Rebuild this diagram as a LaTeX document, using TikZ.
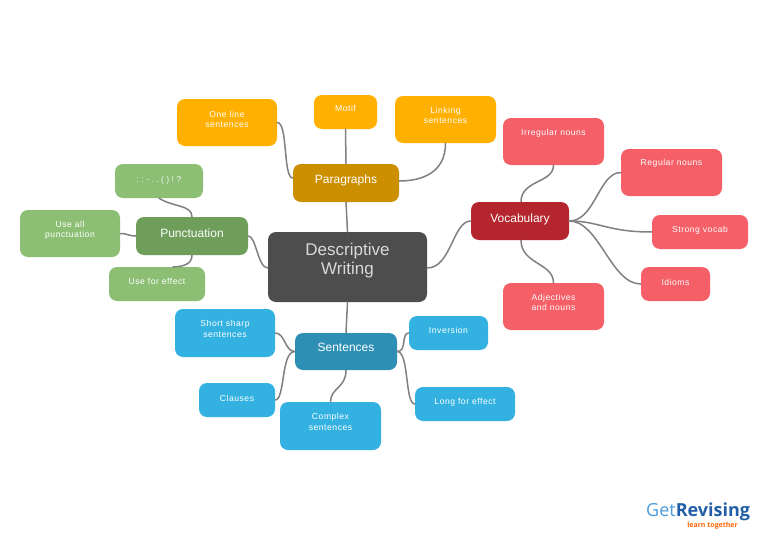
\documentclass[tikz,border=0pt]{standalone}
\usepackage{fontspec}
\setmainfont{Liberation Sans}
\newfontfamily\spaced[LetterSpace=6]{Liberation Sans}
\newfontfamily\wider[LetterSpace=28]{Liberation Sans}
\newfontfamily\logofont{Open Sans}
\definecolor{amberL}{HTML}{FFB000}
\definecolor{amberD}{HTML}{CC8F00}
\definecolor{greenL}{HTML}{8CBF74}
\definecolor{greenD}{HTML}{6F9E5B}
\definecolor{blueL}{HTML}{33B2E2}
\definecolor{blueD}{HTML}{2E8FB5}
\definecolor{redL}{HTML}{F45F68}
\definecolor{redD}{HTML}{B5252D}
\definecolor{coreC}{HTML}{4D4D4D}
\definecolor{linkC}{HTML}{808080}
\newcommand{\upt}[2]{\raisebox{#1pt}[0pt][0pt]{\begin{tabular}{@{}c@{}}#2\end{tabular}}}
\tikzset{
  mbox/.style={rectangle,rounded corners=8pt,inner sep=0pt,text=white,align=center},
  leaf/.style={mbox,font=\spaced\fontsize{8.6}{10.5}\selectfont},
  branch/.style={mbox,font=\fontsize{12}{14}\selectfont},
  core/.style={mbox,font=\fontsize{17}{19}\selectfont,fill=coreC,text=white!85!black},
  conn/.style={draw=linkC,line width=1.5pt,line cap=round},
}
\begin{document}
\begin{tikzpicture}[x=1pt,y=-1pt]
\path[use as bounding box,fill=white] (0,0) rectangle (768,543);
\node[core,minimum width=159pt,minimum height=70pt] (desc) at (347.5,267) {\upt{1.5}{Descriptive\\Writing}};
% paragraphs
\node[branch,fill=amberD,minimum width=106pt,minimum height=38pt] (para) at (346,183) {\upt{-1}{Paragraphs}};
\node[leaf,fill=amberL,minimum width=100pt,minimum height=47pt] (oneline) at (227,122.5) {\upt{0}{One line\\sentences}};
\node[leaf,fill=amberL,minimum width=63pt,minimum height=34pt] (motif) at (345.5,112) {\upt{0}{Motif}};
\node[leaf,fill=amberL,minimum width=101pt,minimum height=47pt] (linking) at (445.5,119.5) {\upt{1}{Linking\\sentences}};
% punctuation
\node[branch,fill=greenD,minimum width=112pt,minimum height=38pt] (punct) at (192,236) {\upt{-2}{Punctuation}};
\node[leaf,fill=greenL,minimum width=88pt,minimum height=34pt] (marks) at (159,181) {\upt{-2}{\wider\color{white!85!greenL}::-..()!?}};
\node[leaf,fill=greenL,minimum width=100pt,minimum height=47pt] (useall) at (70,233.5) {\upt{1}{Use all\\punctuation}};
\node[leaf,fill=greenL,minimum width=96pt,minimum height=34pt] (useeffect) at (157,284) {\upt{-1}{Use for effect}};
% sentences
\node[branch,fill=blueD,minimum width=102pt,minimum height=37pt] (sent) at (346,351.5) {\upt{0}{Sentences}};
\node[leaf,fill=blueL,minimum width=100pt,minimum height=48pt] (short) at (225,333) {\upt{1}{Short sharp\\sentences}};
\node[leaf,fill=blueL,minimum width=76pt,minimum height=34pt] (clauses) at (237,400) {\upt{-2}{Clauses}};
\node[leaf,fill=blueL,minimum width=101pt,minimum height=48pt] (complex) at (330.5,426) {\upt{1}{Complex\\sentences}};
\node[leaf,fill=blueL,minimum width=79pt,minimum height=34pt] (inv) at (448.5,333) {\upt{-1}{Inversion}};
\node[leaf,fill=blueL,minimum width=100pt,minimum height=34pt] (long) at (465,404) {\upt{-1}{Long for effect}};
% vocabulary
\node[branch,fill=redD,minimum width=98pt,minimum height=38pt] (vocab) at (520,221) {\upt{-2}{Vocabulary}};
\node[leaf,fill=redL,minimum width=101pt,minimum height=47pt] (irreg) at (553.5,141.5) {\upt{6}{Irregular nouns}};
\node[leaf,fill=redL,minimum width=101pt,minimum height=47pt] (reg) at (671.5,172.5) {\upt{7}{Regular nouns}};
\node[leaf,fill=redL,minimum width=96pt,minimum height=34pt] (strong) at (700,232) {\upt{-1}{Strong vocab}};
\node[leaf,fill=redL,minimum width=69pt,minimum height=34pt] (idioms) at (675.5,284) {\upt{-2}{Idioms}};
\node[leaf,fill=redL,minimum width=101pt,minimum height=47pt] (adj) at (553.5,306.5) {\upt{1}{Adjectives\\and nouns}};
% connectors
\begin{scope}[every path/.style={conn}]
\draw (desc.north) -- (para.south);
\draw (desc.south) -- (sent.north);
\draw (para.north) -- (motif.south);
\draw (oneline.east) .. controls +(11,0) and +(-10,0) .. ([yshift=5pt]para.west);
\draw (linking.south) .. controls +(0,30) and +(22,0) .. ([yshift=2pt]para.east);
\draw ([yshift=-1pt]desc.east) .. controls +(24,0) and +(-18,0) .. (vocab.west);
\draw ([xshift=1pt]vocab.north) .. controls +(0,-22) and +(0,18) .. (irreg.south);
\draw (vocab.east) .. controls +(26,0) and +(-22,0) .. (reg.west);
\draw (vocab.east) .. controls +(30,0) and +(-45,0) .. (strong.west);
\draw (vocab.east) .. controls +(30,0) and +(-30,0) .. (idioms.west);
\draw ([xshift=1pt]vocab.south) .. controls +(0,24) and +(0,-20) .. (adj.north);
\draw ([yshift=-1pt]desc.west) .. controls +(-10,0) and +(8,0) .. (punct.east);
\draw (punct.north) .. controls +(0,-12) and +(14,9) .. (marks.south);
\draw (punct.west) .. controls +(-8,0) and +(8,0) .. (useall.east);
\draw (punct.south) .. controls +(0,10) and +(8,0) .. ([xshift=16pt]useeffect.north);
\draw (sent.west) .. controls +(-10,0) and +(10,0) .. (short.east);
\draw (sent.west) .. controls +(-14,0) and +(10,0) .. (clauses.east);
\draw (sent.south) .. controls +(0,18) and +(0,-14) .. (complex.north);
\draw (sent.east) .. controls +(10,0) and +(-8,0) .. (inv.west);
\draw (sent.east) .. controls +(12,0) and +(-10,0) .. (long.west);
\end{scope}
% logo
\node[inner sep=0pt,anchor=base west,font=\logofont\fontsize{18}{18}\selectfont] (logo) at (646,516) {\textcolor[HTML]{4A9BDB}{Get}\textcolor[HTML]{235FA8}{\bfseries Revising}};
\node[inner sep=0pt,anchor=base east,text=orange!80!red,font=\logofont\bfseries\fontsize{7}{8}\selectfont] (tag) at (738,527) {learn together};
\end{tikzpicture}
\end{document}
